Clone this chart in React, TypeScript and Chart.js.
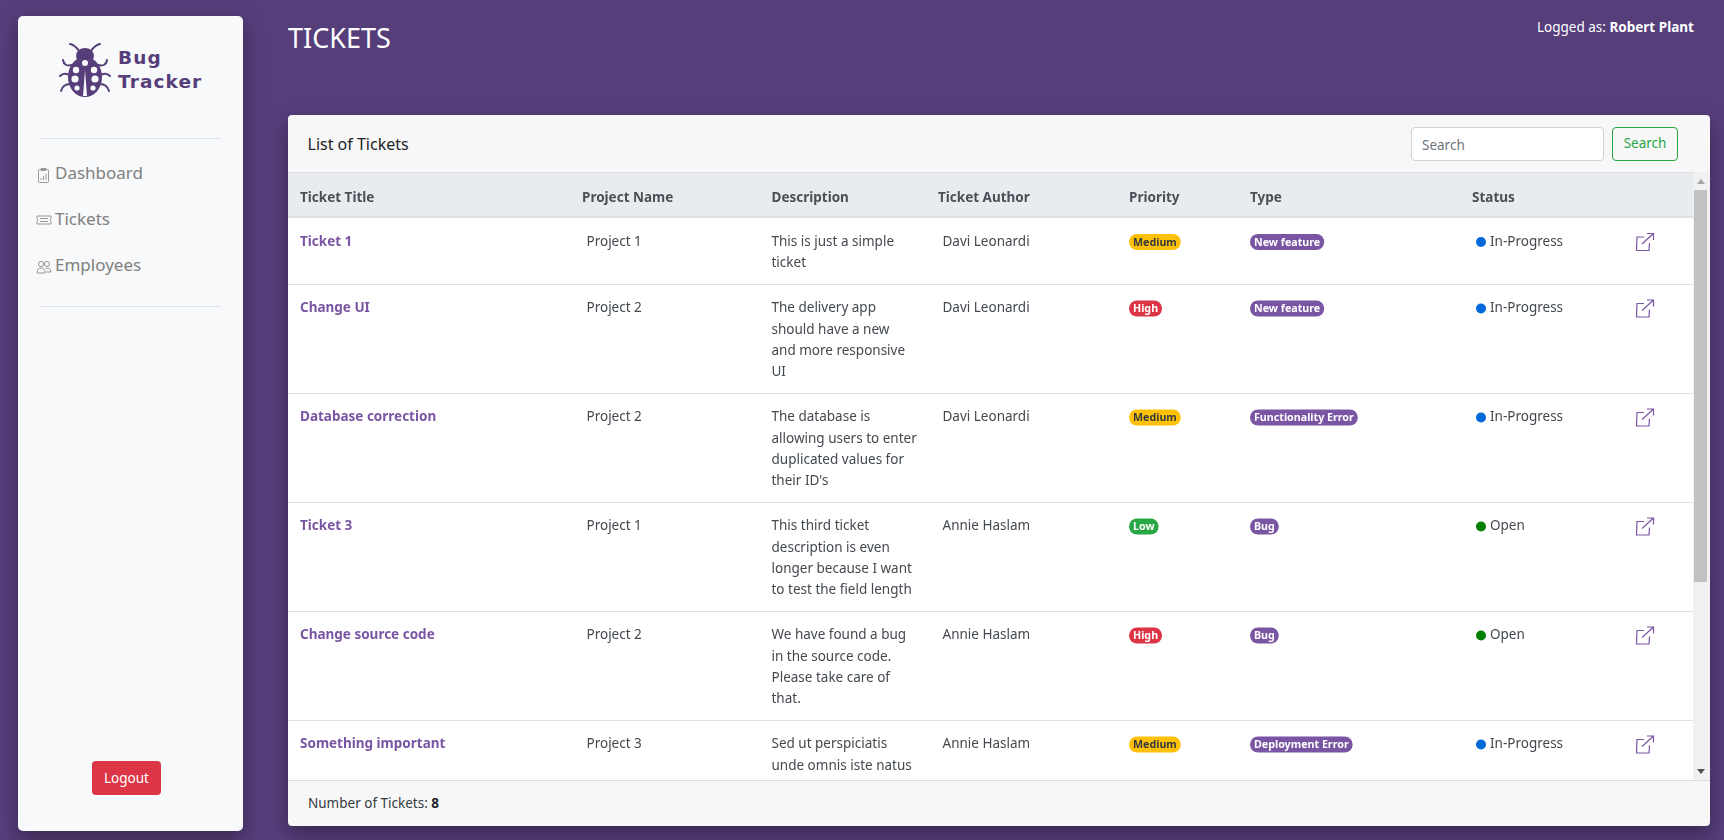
import { useEffect, useRef } from 'react';
import Chart from 'chart.js/auto';

const columnNames = ['Ticket Title', 'Project Name', 'Description', 'Ticket Author', 'Priority', 'Type', 'Status'];
const ticketTitles = ['Ticket 1', 'Change UI', 'Database correction', 'Ticket 3', 'Change source code', 'Something important'];
const projectNames = ['Project 1', 'Project 2', 'Project 2', 'Project 1', 'Project 2', 'Project 3'];
const descriptions = [
  ['This is just a simple', 'ticket'],
  ['The delivery app', 'should have a new', 'and more responsive', 'UI'],
  ['The database is', 'allowing users to enter', 'duplicated values for', "their ID's"],
  ['This third ticket', 'description is even', 'longer because I want', 'to test the field length'],
  ['We have found a bug', 'in the source code.', 'Please take care of', 'that.'],
  ['Sed ut perspiciatis', 'unde omnis iste natus'],
];
const authors = ['Davi Leonardi', 'Davi Leonardi', 'Davi Leonardi', 'Annie Haslam', 'Annie Haslam', 'Annie Haslam'];
const priorities = ['Medium', 'High', 'Medium', 'Low', 'High', 'Medium'];
const ticketTypes = ['New feature', 'New feature', 'Functionality Error', 'Bug', 'Bug', 'Deployment Error'];
const statuses = ['In-Progress', 'In-Progress', 'In-Progress', 'Open', 'Open', 'In-Progress'];
const ticketCount = 8;

const PURPLE = '#563e7b';
const LINK = '#7a55a3';
const TEXT = '#43494f';
const FONT = '"Noto Sans", sans-serif';

const priorityColors: Record<string, [string, string]> = {
  Medium: ['#ffc107', '#343a40'],
  High: ['#dc3545', '#ffffff'],
  Low: ['#28a745', '#ffffff'],
};
const statusColors: Record<string, string> = { 'In-Progress': '#0069d9', Open: '#008000' };

// x scale runs in table pixels, y scale in table pixels below the header
const TABLE_W = 1405;
const TABLE_H = 608;
const HEADER_H = 46;
const columnStarts = [12, 294, 483.5, 650, 841, 962, 1184];
const LINE_H = 21.25;
const FIRST_LINE = 24;
const rowHeights = descriptions.map((d) => 24 + LINE_H * d.length);
const rowTops = rowHeights.map((_, i) => rowHeights.slice(0, i).reduce((a, b) => a + b, 0));

function drawCells(chart: Chart) {
  const { ctx } = chart;
  const x = chart.scales.x;
  const y = chart.scales.y;
  ctx.save();
  ctx.textBaseline = 'middle';
  rowTops.forEach((top, i) => {
    const lineY = (n: number) => y.getPixelForValue(top + FIRST_LINE + n * LINE_H);

    ctx.font = `700 13.5px ${FONT}`;
    ctx.fillStyle = LINK;
    ctx.fillText(ticketTitles[i], x.getPixelForValue(columnStarts[0]), lineY(0));

    ctx.font = `400 13.5px ${FONT}`;
    ctx.fillStyle = TEXT;
    ctx.fillText(projectNames[i], x.getPixelForValue(columnStarts[1] + 4.5), lineY(0));
    descriptions[i].forEach((line, n) => ctx.fillText(line, x.getPixelForValue(columnStarts[2]), lineY(n)));
    ctx.fillText(authors[i], x.getPixelForValue(columnStarts[3] + 4.5), lineY(0));
    ctx.fillText(statuses[i], x.getPixelForValue(columnStarts[6] + 18), lineY(0));

    const [bg, fg] = priorityColors[priorities[i]];
    drawBadge(ctx, priorities[i], x.getPixelForValue(columnStarts[4]), lineY(0), bg, fg);
    drawBadge(ctx, ticketTypes[i], x.getPixelForValue(columnStarts[5]), lineY(0), LINK, '#ffffff');
    drawOpenIcon(ctx, x.getPixelForValue(1348), lineY(0));
  });
  ctx.restore();
}

function drawBadge(ctx: CanvasRenderingContext2D, label: string, left: number, cy: number, bg: string, fg: string) {
  ctx.font = `700 10.7px ${FONT}`;
  const w = ctx.measureText(label).width + 8;
  ctx.fillStyle = bg;
  ctx.beginPath();
  ctx.roundRect(left, cy - 8, w, 16, 8);
  ctx.fill();
  ctx.fillStyle = fg;
  ctx.fillText(label, left + 4, cy + 0.5);
}

function drawOpenIcon(ctx: CanvasRenderingContext2D, left: number, cy: number) {
  ctx.strokeStyle = LINK;
  ctx.lineWidth = 1.2;
  ctx.beginPath();
  ctx.moveTo(left + 8, cy - 5);
  ctx.lineTo(left + 1, cy - 5);
  ctx.lineTo(left + 0.5, cy + 8.5);
  ctx.lineTo(left + 13, cy + 8.5);
  ctx.lineTo(left + 13.5, cy + 1);
  ctx.moveTo(left + 6, cy + 2);
  ctx.lineTo(left + 17.5, cy - 8.5);
  ctx.moveTo(left + 11, cy - 8.5);
  ctx.lineTo(left + 17.5, cy - 8.5);
  ctx.lineTo(left + 17.5, cy - 2);
  ctx.stroke();
}

const tablePlugin = {
  id: 'ticketTable',
  beforeDraw(chart: Chart) {
    const { ctx, width } = chart;
    ctx.save();
    ctx.fillStyle = '#ffffff';
    ctx.fillRect(0, 0, width, chart.height);
    ctx.fillStyle = '#e9ecef';
    ctx.fillRect(0, 0, width, HEADER_H);
    ctx.fillStyle = '#dee2e6';
    ctx.fillRect(0, 0, width, 1);
    ctx.fillRect(0, HEADER_H - 2, width, 2);
    ctx.restore();
  },
  afterDatasetsDraw: drawCells,
};

function TicketTable() {
  const canvasRef = useRef<HTMLCanvasElement>(null);

  useEffect(() => {
    if (!canvasRef.current) return;
    const chart = new Chart(canvasRef.current, {
      type: 'scatter',
      data: {
        datasets: [
          {
            label: 'Status',
            data: statuses.map((_, i) => ({ x: columnStarts[6] + 9, y: rowTops[i] + FIRST_LINE })),
            backgroundColor: statuses.map((s) => statusColors[s]),
            borderWidth: 0,
            pointRadius: 5,
          },
        ],
      },
      options: {
        responsive: false,
        devicePixelRatio: 1,
        animation: false,
        layout: { padding: 0, autoPadding: false },
        plugins: { legend: { display: false }, tooltip: { enabled: false } },
        scales: {
          x: {
            type: 'linear',
            position: 'top',
            min: 0,
            max: TABLE_W,
            grid: { display: false },
            border: { display: false },
            afterBuildTicks: (axis) => {
              axis.ticks = columnStarts.map((value) => ({ value }));
            },
            afterFit: (axis) => {
              axis.height = HEADER_H;
              axis.paddingLeft = 0;
              axis.paddingRight = 0;
            },
            ticks: {
              autoSkip: false,
              maxRotation: 0,
              align: 'start',
              padding: 4,
              color: '#495057',
              font: { family: FONT, size: 13.5, weight: 700 },
              callback: (value) => columnNames[columnStarts.indexOf(Number(value))],
            },
          },
          y: {
            type: 'linear',
            reverse: true,
            min: 0,
            max: TABLE_H - HEADER_H,
            border: { display: false },
            grid: { color: '#dee2e6', drawTicks: false },
            afterBuildTicks: (axis) => {
              axis.ticks = rowTops.slice(1).map((value) => ({ value }));
            },
            afterFit: (axis) => {
              axis.width = 0;
            },
            ticks: { display: false },
          },
        },
      },
      plugins: [tablePlugin],
    });
    return () => chart.destroy();
  }, []);

  return (
    <canvas
      ref={canvasRef}
      width={TABLE_W}
      height={TABLE_H}
      style={{ position: 'absolute', left: 0, top: 57, width: TABLE_W, height: TABLE_H }}
    />
  );
}

function BugLogo() {
  return (
    <svg width={52} height={54} viewBox="0 0 52 54" style={{ position: 'absolute', left: 41, top: 27 }}>
      <g fill="none" stroke={PURPLE} strokeWidth={2} strokeLinecap="round">
        <path d="M20 8 Q16 2 11 1" />
        <path d="M32 8 Q36 2 41 1" />
        <path d="M13 22 Q5 24 4 17" />
        <path d="M39 22 Q47 24 48 17" />
        <path d="M10 32 Q5 29 1 33" />
        <path d="M42 32 Q47 29 51 33" />
        <path d="M11 41 Q4 41 2 48" />
        <path d="M41 41 Q48 41 50 48" />
      </g>
      <ellipse cx={26} cy={13} rx={9} ry={8} fill={PURPLE} />
      <ellipse cx={26} cy={34} rx={17} ry={20} fill={PURPLE} />
      <path d="M26 27 L28 53 L24 53 Z" fill="#f8f9fa" />
      <g fill="#f8f9fa">
        <circle cx={26} cy={20} r={3} />
        <circle cx={17} cy={27} r={3.2} />
        <circle cx={35} cy={27} r={3.2} />
        <circle cx={16} cy={36} r={3.6} />
        <circle cx={36} cy={36} r={3.6} />
        <circle cx={18} cy={45} r={2.6} />
        <circle cx={34} cy={45} r={2.6} />
      </g>
    </svg>
  );
}

const iconStroke = { fill: 'none', stroke: '#999999', strokeWidth: 1 };

function NavIcon({ kind, top }: { kind: string; top: number }) {
  return (
    <svg width={16} height={16} viewBox="0 0 16 16" style={{ position: 'absolute', left: 18, top }}>
      {kind === 'dash' && (
        <g {...iconStroke}>
          <rect x={2.5} y={2.5} width={10} height={13} rx={1} />
          <path d="M5 1.5h5v2h-5z M5 13v-2 M7.5 13v-4 M10 13v-6" />
        </g>
      )}
      {kind === 'ticket' && (
        <g {...iconStroke}>
          <path d="M1 4h14v2.5q-1.5 1.5 0 3V12H1V9.5q1.5-1.5 0-3z" />
          <path d="M4 6.5h8M4 9.5h8" />
        </g>
      )}
      {kind === 'people' && (
        <g {...iconStroke}>
          <circle cx={5} cy={5} r={2.6} />
          <circle cx={11} cy={5} r={2.6} />
          <path d="M1 14q0-5 4-5t4 5zM9.5 9.5q5-1.5 5.5 3.5h-5" />
        </g>
      )}
    </svg>
  );
}

function abs(left: number, top: number, extra: React.CSSProperties = {}): React.CSSProperties {
  return { position: 'absolute', left, top, whiteSpace: 'nowrap', ...extra };
}

const navItems = [
  { label: 'Dashboard', icon: 'dash', top: 157, iconTop: 151 },
  { label: 'Tickets', icon: 'ticket', top: 203, iconTop: 196 },
  { label: 'Employees', icon: 'people', top: 249, iconTop: 243 },
];

export default function App() {
  return (
    <div style={{ position: 'fixed', left: 0, top: 0, width: 1724, height: 840, overflow: 'hidden', background: PURPLE, fontFamily: FONT }}>
      {/* sidebar */}
      <div style={{ position: 'absolute', left: 18, top: 16, width: 225, height: 815, background: '#f8f9fa', borderRadius: 5, boxShadow: '0 8px 20px rgba(0,0,0,0.35)' }}>
        <BugLogo />
        <div style={abs(100, 30, { color: PURPLE, font: '700 18.5px/24px "DejaVu Sans"', letterSpacing: 1.1, whiteSpace: 'pre-line' })}>{'Bug\nTracker'}</div>
        <div style={abs(23, 122, { width: 180, height: 1, background: '#dee2e6' })} />
        {navItems.map((item) => (
          <div key={item.label}>
            <NavIcon kind={item.icon} top={item.iconTop} />
            <div style={abs(37, item.top - 13, { color: '#808080', fontSize: 17, lineHeight: '26px' })}>{item.label}</div>
          </div>
        ))}
        <div style={abs(23, 290, { width: 180, height: 1, background: '#dee2e6' })} />
        <div style={abs(74, 745, { width: 69, height: 34, background: '#dc3545', borderRadius: 4, color: '#fff', fontSize: 13.5, lineHeight: '34px', textAlign: 'center' })}>Logout</div>
      </div>

      {/* page header */}
      <div style={abs(288, 19, { color: '#fff', fontSize: 27, lineHeight: '38px' })}>TICKETS</div>
      <div style={abs(1537, 17, { color: '#fff', fontSize: 13.5, lineHeight: '20px' })}>
        Logged as: <b>Robert Plant</b>
      </div>

      {/* card */}
      <div style={{ position: 'absolute', left: 288, top: 115, width: 1421.5, height: 711, background: '#f7f7f7', borderRadius: 4, overflow: 'hidden' }}>
        <div style={abs(19.5, 17, { color: '#212529', fontSize: 16, lineHeight: '24px' })}>List of Tickets</div>
        <div style={abs(1123, 12, { width: 192.5, height: 34, boxSizing: 'border-box', background: '#fff', border: '1px solid #ced4da', borderRadius: 4, color: '#6c757d', fontSize: 13.5, lineHeight: '35px', paddingLeft: 10 })}>Search</div>
        <div style={abs(1324, 12, { width: 66, height: 34, boxSizing: 'border-box', border: '1px solid #28a745', borderRadius: 4, color: '#28a745', fontSize: 13.5, lineHeight: '31px', textAlign: 'center' })}>Search</div>
        <TicketTable />
        {/* scrollbar */}
        <div style={abs(1405, 57, { width: 16.5, height: 608, background: '#f1f1f1' })} />
        <div style={abs(1406, 75, { width: 13, height: 392, background: '#c1c1c1' })} />
        <div style={abs(1409, 64, { width: 0, height: 0, borderLeft: '4px solid transparent', borderRight: '4px solid transparent', borderBottom: '5px solid #a3a3a3' })} />
        <div style={abs(1409, 654, { width: 0, height: 0, borderLeft: '4px solid transparent', borderRight: '4px solid transparent', borderTop: '5px solid #505050' })} />
        {/* footer */}
        <div style={abs(0, 665, { width: 1421.5, height: 1, background: '#dcdcdc' })} />
        <div style={abs(20, 677, { color: '#343a40', fontSize: 13.5, lineHeight: '22px' })}>
          Number of Tickets: <b style={{ color: '#212529' }}>{ticketCount}</b>
        </div>
      </div>
      <div style={{ position: 'absolute', left: 288, top: 115, width: 1421.5, height: 711, borderRadius: 4, boxShadow: '0 8px 20px rgba(0,0,0,0.35)', pointerEvents: 'none' }} />
    </div>
  );
}
